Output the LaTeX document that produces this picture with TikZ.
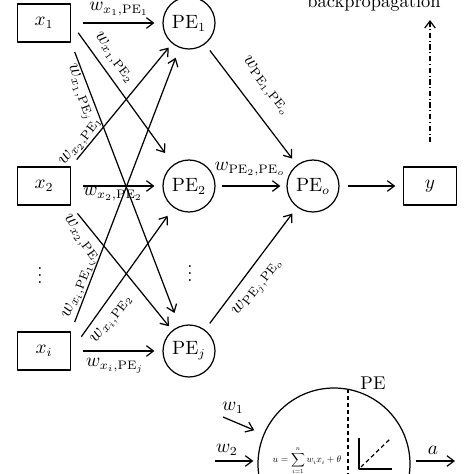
\documentclass[tikz,border=0pt]{standalone}
\usepackage{amsmath}
\usetikzlibrary{arrows.meta}
\begin{document}
\begin{tikzpicture}[x=0.02cm,y=-0.02cm,>={Straight Barb[length=4pt,width=6pt]},
	font={\fontsize{10.5}{12}\selectfont}, line join=round, line width=0.7pt,
	inp/.style={draw, minimum width=1.06cm, minimum height=0.76cm, inner sep=0pt},
	pe/.style={draw, circle, minimum size=1.04cm, inner sep=0pt},
	wire/.style={->, shorten <=6.8pt, shorten >=4.5pt}]
	\useasboundingbox (0,0) rectangle (474,474);
	\clip (0,0) rectangle (474,474);
	% inputs
	\node[inp] (x1) at (44,23) {$x_1$};
	\node[inp] (x2) at (44,186) {$x_2$};
	\node[inp] (xi) at (44,351) {$x_i$};
	\node at (40,270) {$\vdots$};
	% hidden layer
	\node[pe] (PE1) at (189,23) {$\mathrm{PE}_1$};
	\node[pe] (PE2) at (189,186) {$\mathrm{PE}_2$};
	\node[pe] (PEj) at (189,351) {$\mathrm{PE}_j$};
	\node at (190,268) {$\vdots$};
	% output
	\node[pe] (PEo) at (313,186) {$\mathrm{PE}_o$};
	\node[inp] (y) at (430,186) {$y$};
	% input -> hidden
	\draw[wire] (x1) -- (PE1);
	\draw[wire, shorten >=8pt] (x1.east) -- (PE2);
	\draw[wire, shorten <=5.7pt, shorten >=8pt] (x1.south east) -- (PEj);
	\draw[wire, shorten <=5pt, shorten >=3pt] (x2.north east) -- (PE1);
	\draw[wire] (x2) -- (PE2);
	\draw[wire, shorten <=5.7pt, shorten >=3pt] (x2.south east) -- (PEj);
	\draw[wire, shorten <=5.7pt, shorten >=6pt] (xi.north east) -- (PE1);
	\draw[wire, shorten <=10pt, shorten >=5.7pt] (xi.east) -- (PE2);
	\draw[wire] (xi) -- (PEj);
	\node at (119,9) {$w_{x_1,\mathrm{PE}_1}$};
	\node[rotate=-53] at (114,58) {$w_{x_1,\mathrm{PE}_2}$};
	\node[rotate=-69] at (80,93) {$w_{x_1,\mathrm{PE}_j}$};
	\node[rotate=53] at (81,141) {$w_{x_2,\mathrm{PE}_1}$};
	\node at (113,194) {$w_{x_2,\mathrm{PE}_2}$};
	\node[rotate=-54] at (82,241) {$w_{x_2,\mathrm{PE}_j}$};
	\node[rotate=69] at (78,291) {$w_{x_i,\mathrm{PE}_1}$};
	\node[rotate=53] at (112,319) {$w_{x_i,\mathrm{PE}_2}$};
	\node at (115,366) {$w_{x_i,\mathrm{PE}_j}$};
	% hidden -> output
	\draw[wire, shorten <=4.5pt] (PE1) -- (PEo);
	\draw[wire, shorten <=3.4pt, shorten >=3.4pt] (PE2) -- (PEo);
	\draw[wire, shorten <=4.5pt] (PEj) -- (PEo);
	\draw[wire, shorten <=4.5pt, shorten >=4.3pt] (PEo) -- (y);
	\node[rotate=-52] at (266,86) {$w_{\mathrm{PE}_1,\mathrm{PE}_o}$};
	\node at (250,169) {$w_{\mathrm{PE}_2,\mathrm{PE}_o}$};
	\node[rotate=52] at (258,287) {$w_{\mathrm{PE}_j,\mathrm{PE}_o}$};
	% backpropagation
	\coordinate (bp) at (430,20);
	\draw[->, shorten <=13.6pt, dash pattern=on 3pt off 1.5pt on 0.6pt off 1.5pt] (y) -- (bp);
	\node[anchor=base] at (374,7.5) {backpropagation};
	% single PE
	\node[draw, circle, minimum size=3.04cm, inner sep=0pt] (PEbig) at (334,464) {};
	\draw[dash pattern=on 2.3pt off 1.7pt] (348,389) -- (348,474);
	\node at (373,383) {PE};
	\node[scale=0.5] at (307,461) {$\displaystyle u=\sum_{i=1}^{n} w_i x_i+\theta$};
	\draw (359,438) -- (359,469) -- (392,469);
	\draw[dash pattern=on 2.3pt off 1.7pt] (361,467) -- (391,438);
	\coordinate (w1in) at (223,417);
	\coordinate (w2in) at (215,461);
	\coordinate (aout) at (455,461);
	\draw[->, shorten >=5.7pt] (w1in) -- (PEbig);
	\draw[->, shorten >=2.3pt] (w2in) -- (w2in -| PEbig.west);
	\draw[->, shorten <=2.8pt] (aout -| PEbig.east) -- (aout);
	\node at (233,408) {$w_1$};
	\node at (227,450) {$w_2$};
	\node at (433,450) {$a$};
\end{tikzpicture}
\end{document}
